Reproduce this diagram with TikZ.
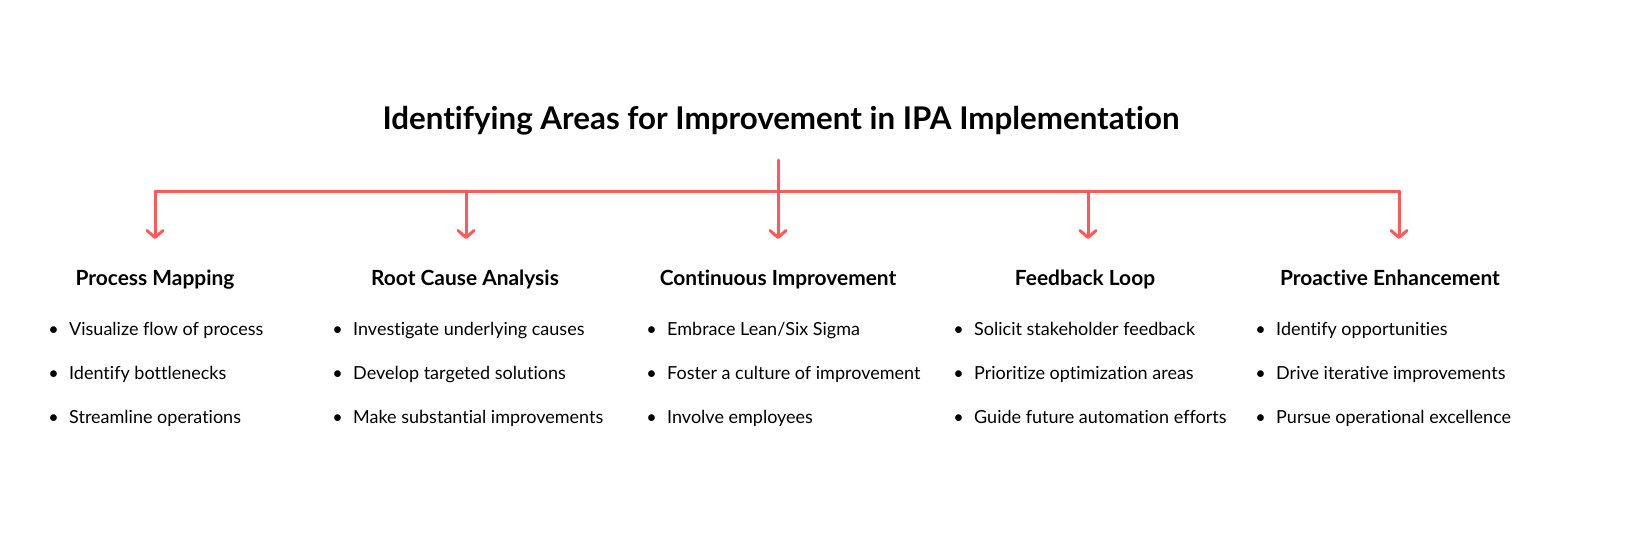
\documentclass[tikz,border=0pt]{standalone}
\usepackage{fontspec}
\setmainfont[RawFeature=-liga]{Lato}
\usetikzlibrary{arrows.meta}
\definecolor{accent}{HTML}{FF5A5A}
\tikzset{
  conn/.style={draw=accent, line width=3pt, line cap=round, line join=round},
  arr/.style={conn, -{Straight Barb[length=7pt,width=16pt,line cap=round,line join=round]}},
  titletext/.style={font=\fontsize{31.3}{36}\selectfont\bfseries, anchor=base},
  headtext/.style={font=\fontsize{20.9}{25}\selectfont\bfseries, anchor=base},
  itemtext/.style={font=\fontsize{18}{22}\selectfont, anchor=base west, inner sep=0pt},
}
\newcommand{\itm}[1]{\llap{\textbullet\hspace{10.5pt}}#1}
\begin{document}
\begin{tikzpicture}[x=1pt,y=-1pt]
\useasboundingbox (0,0) rectangle (1640,550);
\node[titletext] (title) at (781,129) {Identifying Areas for Improvement in IPA Implementation};
\coordinate (top) at (778,160);
\coordinate (hub) at (778,191);
\coordinate (l1) at (155,191);
\coordinate (l2) at (466,191);
\coordinate (l4) at (1088,191);
\coordinate (l5) at (1399,191);
\coordinate (e1) at (155,239);
\coordinate (e2) at (466,239);
\coordinate (e3) at (778,239);
\coordinate (e4) at (1088,239);
\coordinate (e5) at (1399,239);
\draw[conn] (l1) -- (l5);
\draw[arr] (top) -- (e3);
\draw[arr] (l1) -- (e1);
\draw[arr] (l2) -- (e2);
\draw[arr] (l4) -- (e4);
\draw[arr] (l5) -- (e5);

\node[headtext] (h1) at (155,285.5) {Process Mapping};
\node[headtext] (h2) at (465,285.5) {Root Cause Analysis};
\node[headtext] (h3) at (778,285.5) {Continuous Improvement};
\node[headtext] (h4) at (1085,285.5) {Feedback Loop};
\node[headtext] (h5) at (1390,285.5) {Proactive Enhancement};

\node[itemtext] (a1) at (69,335) {\itm{Visualize flow of process}};
\node[itemtext] (a2) at (69,379) {\itm{Identify bottlenecks}};
\node[itemtext] (a3) at (69,423) {\itm{Streamline operations}};
\node[itemtext] (b1) at (353,335) {\itm{Investigate underlying causes}};
\node[itemtext] (b2) at (353,379) {\itm{Develop targeted solutions}};
\node[itemtext] (b3) at (353,423) {\itm{Make substantial improvements}};
\node[itemtext] (c1) at (667,335) {\itm{Embrace Lean/Six Sigma}};
\node[itemtext] (c2) at (667,379) {\itm{Foster a culture of improvement}};
\node[itemtext] (c3) at (667,423) {\itm{Involve employees}};
\node[itemtext] (d1) at (974,335) {\itm{Solicit stakeholder feedback}};
\node[itemtext] (d2) at (974,379) {\itm{Prioritize optimization areas}};
\node[itemtext] (d3) at (974,423) {\itm{Guide future automation efforts}};
\node[itemtext] (f1) at (1276,335) {\itm{Identify opportunities}};
\node[itemtext] (f2) at (1276,379) {\itm{Drive iterative improvements}};
\node[itemtext] (f3) at (1276,423) {\itm{Pursue operational excellence}};
\end{tikzpicture}
\end{document}
